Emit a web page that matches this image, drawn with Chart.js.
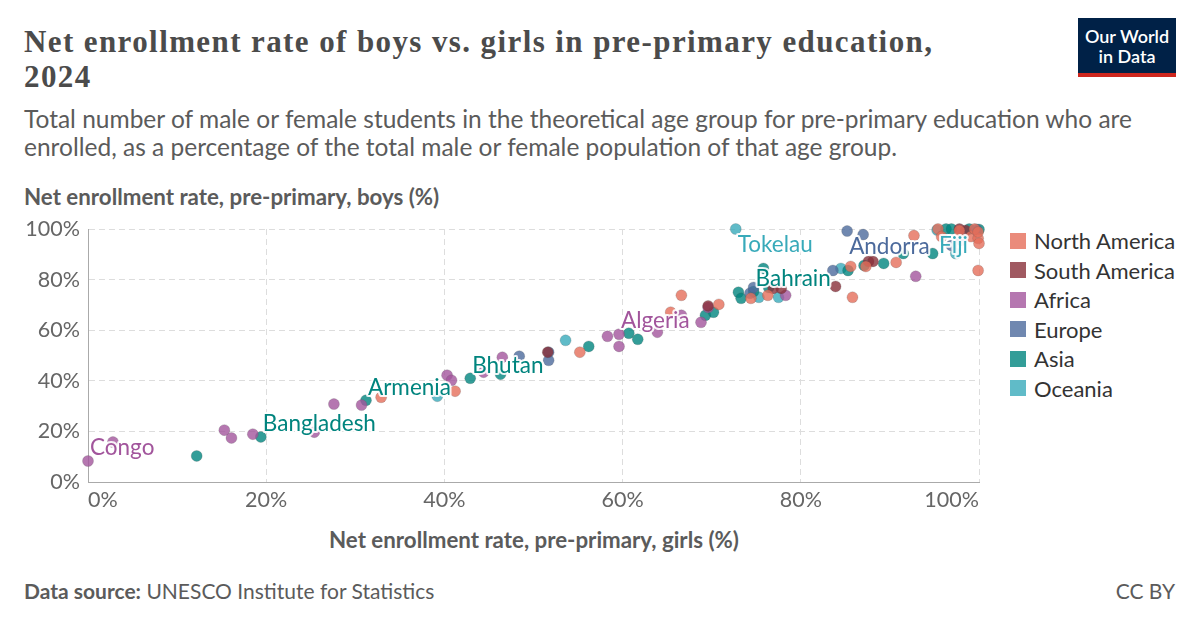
<!DOCTYPE html>
<html>
<head>
<meta charset="utf-8">
<script src="https://cdn.jsdelivr.net/npm/chart.js@4.4.1/dist/chart.umd.min.js"></script>
<style>
  body { margin: 0; width: 1200px; height: 627px; background: #fff; font-family: Lato, sans-serif; position: relative; overflow: hidden; }
  .abs { position: absolute; white-space: nowrap; }
  #title { left: 24px; top: 24px; font-family: 'Liberation Serif', serif; font-weight: bold; font-size: 31px; letter-spacing: 1.4px; line-height: 35px; color: #4b4b4b; }
  #subtitle { left: 24px; top: 105px; font-size: 24.5px; line-height: 27.5px; color: #5b5b5b; }
  #ytitle { left: 24px; top: 183px; font-size: 22.3px; font-weight: bold; color: #5b5b5b; }
  #xtitle { left: 534px; top: 526px; transform: translateX(-50%); font-size: 22.3px; font-weight: bold; color: #5b5b5b; }
  #footer { left: 24px; top: 578px; font-size: 21px; color: #5b5b5b; }
  #cc { right: 25px; top: 578px; font-size: 21px; color: #5b5b5b; }
  #logo { left: 1078px; top: 18px; width: 98px; height: 59px; background: #002147; color: #fff; text-align: center; font-size: 18px; line-height: 20px; font-weight: 600; box-sizing: border-box; padding-top: 8px; }
  #logo .bar { position: absolute; left: 0; bottom: 0; width: 100%; height: 4px; background: #ce261e; }
  #legend { left: 1010px; top: 226px; }
  .item { display: flex; align-items: center; height: 29.5px; font-size: 22px; color: #333; }
  .sw { width: 16px; height: 16px; margin-right: 8px; flex: none; }
  #wrap { position: absolute; left: 0; top: 210px; width: 1000px; height: 300px; }
</style>
</head>
<body>
<div id="title" class="abs">Net enrollment rate of boys vs. girls in pre-primary education,<br>2024</div>
<div id="subtitle" class="abs">Total number of male or female students in the theoretical age group for pre-primary education who are<br>enrolled, as a percentage of the total male or female population of that age group.</div>
<div id="logo" class="abs">Our World<br>in Data<div class="bar"></div></div>
<div id="ytitle" class="abs">Net enrollment rate, pre-primary, boys (%)</div>
<div id="xtitle" class="abs">Net enrollment rate, pre-primary, girls (%)</div>
<div id="footer" class="abs"><b>Data source:</b> UNESCO Institute for Statistics</div>
<div id="cc" class="abs">CC BY</div>
<div id="legend" class="abs"></div>
<div id="wrap"><canvas id="chart"></canvas></div>
<script>
// [girls %, boys %] per country, grouped by continent
const northAmerica = [[32.9,33.5],[41.2,35.9],[55.2,51.3],[65.4,67.1],[66.6,73.8],[70.8,70.2],[74.4,72.6],[76.3,73.8],
  [85.6,85.2],[87.3,85.2],[85.8,73.0],[90.7,86.8],[92.7,97.4],[95.4,100],[95.8,97.0],[97.8,99.4],[99.1,97.0],[99.9,96.3],
  [100,94.3],[99.9,83.6],[99.5,100],[99.9,98.8]];
const southAmerica = [[51.6,51.3],[69.6,69.6],[76.9,76.5],[77.8,76.5],[83.9,77.3],[87.6,87.2],[88.1,87.2],[97.8,100],[98.5,99.4]];
const africa = [[0,8.3],[2.8,15.8],[15.3,20.5],[16.1,17.4],[18.5,18.9],[25.4,19.7],[27.6,30.8],[30.7,30.4],[40.3,42.2],
  [40.8,40.2],[44.4,43.4],[46.5,49.3],[58.3,57.6],[59.6,58.4],[59.6,53.6],[63.9,59.2],[66.6,65.9],[68.8,63.1],[69.6,69.0],
  [78.3,73.8],[92.9,81.3]];
const europe = [[48.4,49.7],[51.7,51.3],[51.7,48.1],[74.3,74.6],[74.7,76.9],[83.6,83.6],[85.2,99.2],[87.0,97.8],
  [96.9,93.5],[98.0,95.5],[99.7,99.8]];
const asia = [[12.2,10.3],[19.4,17.8],[31.2,32.3],[42.9,41.0],[46.3,42.6],[56.2,53.6],[60.7,58.8],[61.7,56.4],[69.3,65.9],
  [70.2,67.1],[73.0,75.0],[73.3,72.6],[74.7,75.3],[75.8,84.4],[76.4,76.9],[85.3,83.6],[87.1,85.6],[89.3,86.4],[91.5,90.3],
  [94.8,90.3],[96.3,100],[96.9,100],[98.9,100],[100,99.8]];
const oceania = [[39.2,33.9],[53.6,56.0],[72.7,100],[75.3,73.0],[77.5,73.0],[84.5,84.4],[95.3,99.6],[97.4,90.3]];

const continents = ['North America', 'South America', 'Africa', 'Europe', 'Asia', 'Oceania'];
const colors = ['#E56E5A', '#883039', '#A2559C', '#4C6A9C', '#00847E', '#38AABA'];
const series = [northAmerica, southAmerica, africa, europe, asia, oceania];
const xTicks = [0, 20, 40, 60, 80, 100];
const yTicks = [0, 20, 40, 60, 80, 100];

// labelled countries: name, continent index, girls, boys, label below the point
const countryLabels = [
  ['Congo', 2, 0, 8.3, false],
  ['Bangladesh', 4, 19.4, 17.8, false],
  ['Armenia', 4, 31.2, 32.3, false],
  ['Bhutan', 4, 42.9, 41.0, false],
  ['Algeria', 2, 59.6, 58.4, false],
  ['Bahrain', 4, 74.7, 75.3, false],
  ['Tokelau', 5, 72.7, 100, true],
  ['Andorra', 3, 85.2, 99.2, true],
  ['Fiji', 5, 95.3, 99.6, true],
];

function alpha(hex, a) {
  const n = parseInt(hex.slice(1), 16);
  return `rgba(${n >> 16},${(n >> 8) & 255},${n & 255},${a})`;
}

document.getElementById('legend').innerHTML = continents.map((c, i) =>
  `<div class="item"><div class="sw" style="background:${alpha(colors[i], 0.8)}"></div>${c}</div>`).join('');

// first x label sits right of the axis start, last one ends at the axis end
const edgeLabels = {
  id: 'edgeLabels',
  beforeDraw(chart) {
    const items = chart.scales.x.getLabelItems();
    if (!items.length) return;
    items[0].options.textAlign = 'left';
    items[items.length - 1].options.textAlign = 'right';
  }
};

const labelPlugin = {
  id: 'countryLabels',
  afterDatasetsDraw(chart) {
    const { ctx, scales: { x, y } } = chart;
    ctx.save();
    ctx.font = '22.5px Lato';
    ctx.textBaseline = 'middle';
    ctx.lineJoin = 'round';
    countryLabels.forEach(([name, ci, gx, by, below]) => {
      const px = x.getPixelForValue(gx) + 2;
      const py = y.getPixelForValue(by) + (below ? 16 : -13);
      ctx.strokeStyle = 'rgba(255,255,255,0.9)';
      ctx.lineWidth = 4;
      ctx.strokeText(name, px, py);
      ctx.fillStyle = colors[ci];
      ctx.fillText(name, px, py);
    });
    ctx.restore();
  }
};

const noPad = s => { s.paddingLeft = 0; s.paddingRight = 0; s.paddingTop = 0; s.paddingBottom = 0; };

new Chart(document.getElementById('chart'), {
  type: 'scatter',
  data: {
    datasets: series.map((s, i) => ({
      label: continents[i],
      data: s.map(([gx, by]) => ({ x: gx, y: by })),
      backgroundColor: alpha(colors[i], 0.8),
      borderColor: 'rgba(80,80,80,0.35)',
      borderWidth: 0.6,
      pointRadius: 5.5,
      clip: false,
    }))
  },
  options: {
    responsive: true, maintainAspectRatio: false, animation: false,
    layout: { padding: { top: 19, right: 21, left: 0, bottom: 0 } },
    plugins: { legend: { display: false }, tooltip: { enabled: false } },
    scales: {
      x: {
        type: 'linear', min: 0, max: 100,
        afterBuildTicks: s => { s.ticks = xTicks.map(v => ({ value: v })); },
        afterFit: s => { s.height = 28; noPad(s); },
        ticks: { color: '#666', font: { family: 'Lato', size: 21.5 }, padding: 5, maxRotation: 0, callback: v => v + '%' },
        grid: { color: '#ddd', drawTicks: false },
        border: { color: '#aaa', dash: [6, 4] }
      },
      y: {
        type: 'linear', min: 0, max: 100,
        afterBuildTicks: s => { s.ticks = yTicks.map(v => ({ value: v })); },
        afterFit: s => { s.width = 88; noPad(s); },
        ticks: { color: '#666', font: { family: 'Lato', size: 21.5 }, padding: 8, callback: v => v + '%' },
        grid: { color: '#ddd', drawTicks: false },
        border: { color: '#aaa', dash: [6, 4] }
      }
    }
  },
  plugins: [edgeLabels, labelPlugin]
});
</script>
</body>
</html>
